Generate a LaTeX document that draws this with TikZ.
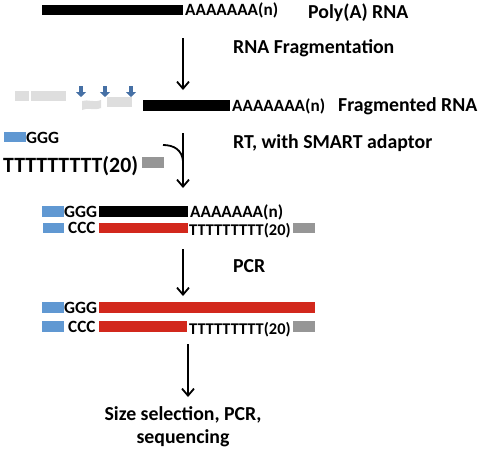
\documentclass[tikz,border=0pt]{standalone}
\usepackage{fontspec}
\setmainfont{Carlito}
\usetikzlibrary{arrows.meta}
\definecolor{adblue}{RGB}{96,152,210}
\definecolor{adred}{RGB}{210,40,28}
\definecolor{adgray}{RGB}{150,150,150}
\definecolor{frag}{RGB}{222,222,222}
\definecolor{cutblue}{RGB}{70,112,165}
\tikzset{
  bar/.style={draw=none,inner sep=0pt,anchor=north west},
  seq/.style={inner sep=0pt,anchor=base west,font=\bfseries\fontsize{17.2}{20}\selectfont},
  tseq/.style={inner sep=0pt,anchor=base west,font=\bfseries\fontsize{16.4}{20}\selectfont},
  bigseq/.style={inner sep=0pt,anchor=base west,font=\bfseries\fontsize{21.8}{26}\selectfont},
  lab/.style={inner sep=0pt,anchor=base west,font=\bfseries\fontsize{19.8}{23}\selectfont},
  flow/.style={line width=1.8pt,-{Straight Barb[length=7pt,width=12pt,line width=1.8pt]}},
  cut/.style={line width=3.4pt,cutblue,-{Triangle[length=5pt,width=10pt]}}
}
\newcommand{\barbox}[6]{\node[bar,fill=#2,minimum width=#5pt-#3pt,minimum height=#6pt-#4pt] (#1) at (#3,#4) {};}
\begin{document}
\begin{tikzpicture}[x=1pt,y=-1pt]
\useasboundingbox (0,0) rectangle (480,450);
% row 1
\barbox{b1}{black}{42}{5}{183}{15}
\node[seq] (t1) at (185,15) {AAAAAAA(n)};
\node[lab] (l1) at (308,18) {Poly(A) RNA};
% arrow 1
\coordinate (a1s) at (183,38);
\coordinate (a1e) at (183,90);
\draw[flow] (a1s) -- (a1e);
\node[lab] (l2) at (233,53) {RNA Fragmentation};
% fragmented row
\barbox{f1}{frag}{15}{91}{29}{101}
\barbox{f2}{frag}{31}{91}{66}{101}
\barbox{f4}{frag}{107}{97}{132}{107}
\fill[frag] (82,101) .. controls (88,99) and (94,103) .. (101,100) -- (101,108) .. controls (94,111) and (88,107) .. (82,110) -- cycle;
\coordinate (c1s) at (81,86); \coordinate (c1e) at (81,97);
\coordinate (c2s) at (105,86); \coordinate (c2e) at (105,97);
\coordinate (c3s) at (131,86); \coordinate (c3e) at (131,97);
\draw[cut] (c1s) -- (c1e);
\draw[cut] (c2s) -- (c2e);
\draw[cut] (c3s) -- (c3e);
\barbox{b2}{black}{143}{100}{230}{111}
\node[seq] (t2) at (232,111) {AAAAAAA(n)};
\node[lab] (l3) at (338,111) {Fragmented RNA};
% RT reagents
\barbox{sb}{adblue}{4}{132}{26}{142}
\node[seq] (sg) at (26,143) {GGG};
\node[bigseq] (ot) at (3,172) {TTTTTTTTT(20)};
\barbox{og}{adgray}{142}{157}{164}{168}
% arrow 2 with merging curve
\coordinate (a2s) at (183,133);
\coordinate (a2e) at (183,188);
\coordinate (cv0) at (163,145);
\coordinate (cv1) at (183,161);
\draw[flow] (a2s) -- (a2e);
\draw[line width=1.8pt] (cv0) .. controls (174,145) and (182,150) .. (cv1);
\node[lab] (l4) at (233,148) {RT, with SMART adaptor};
% rows 3-4
\barbox{r3b}{adblue}{42}{206}{64}{217}
\node[seq] (r3g) at (64,217) {GGG};
\barbox{r3k}{black}{99}{206}{188}{217}
\node[seq] (r3a) at (190,217) {AAAAAAA(n)};
\barbox{r4b}{adblue}{43}{223}{64}{233}
\node[seq] (r4c) at (68,233) {CCC};
\barbox{r4r}{adred}{99}{223}{188}{233}
\node[tseq] (r4t) at (189,235) {TTTTTTTTT(20)};
\barbox{r4g}{adgray}{293}{223}{315}{233}
% arrow 3
\coordinate (a3s) at (183,249);
\coordinate (a3e) at (183,296);
\draw[flow] (a3s) -- (a3e);
\node[lab] (l5) at (233,272) {PCR};
% rows 5-6
\barbox{r5b}{adblue}{42}{302}{64}{313}
\node[seq] (r5g) at (64,313) {GGG};
\barbox{r5r}{adred}{99}{302}{315}{313}
\barbox{r6b}{adblue}{42}{321}{64}{332}
\node[seq] (r6c) at (68,332) {CCC};
\barbox{r6r}{adred}{99}{321}{187}{332}
\node[tseq] (r6t) at (189,334) {TTTTTTTTT(20)};
\barbox{r6g}{adgray}{293}{321}{315}{332}
% arrow 4
\coordinate (a4s) at (188,344);
\coordinate (a4e) at (188,397);
\draw[flow] (a4s) -- (a4e);
\node[lab,anchor=base] (l6) at (183,420) {Size selection, PCR,};
\node[lab,anchor=base] (l7) at (183,443) {sequencing};
\end{tikzpicture}
\end{document}
